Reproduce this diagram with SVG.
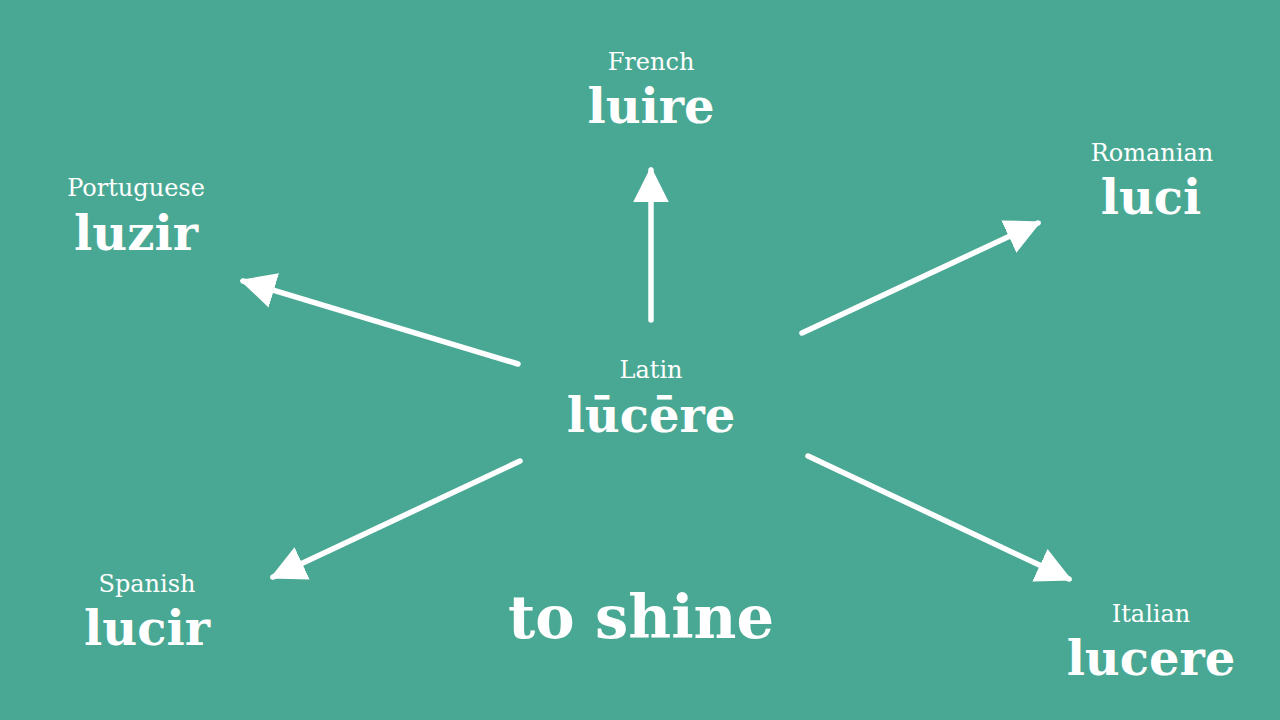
<svg xmlns="http://www.w3.org/2000/svg" width="1280" height="720" viewBox="0 0 1280 720">
<defs>
<style>
.lang{font-family:"DejaVu Serif","Liberation Serif",serif;font-size:24px;fill:#ffffff;text-anchor:middle}
.word{font-family:"DejaVu Serif","Liberation Serif",serif;font-weight:bold;font-size:48px;fill:#ffffff;text-anchor:middle}
.big{font-family:"DejaVu Serif","Liberation Serif",serif;font-weight:bold;font-size:59px;fill:#ffffff;text-anchor:middle}
.arrow{stroke:#ffffff;stroke-width:5.5;stroke-linecap:round;fill:none}
</style>
<marker id="head" viewBox="0 0 10 10" refX="9" refY="5" markerWidth="6.5" markerHeight="7.5" markerUnits="strokeWidth" orient="auto">
<path d="M0,0 L10,5 L0,10 Z" fill="#ffffff"/>
</marker>
</defs>
<rect width="1280" height="720" fill="#49a893"/>
<g id="connectors">
<line class="arrow" x1="651" y1="320" x2="651" y2="170" marker-end="url(#head)"/>
<line class="arrow" x1="518" y1="364" x2="243" y2="281" marker-end="url(#head)"/>
<line class="arrow" x1="802" y1="333" x2="1038" y2="223" marker-end="url(#head)"/>
<line class="arrow" x1="520" y1="461" x2="273" y2="577" marker-end="url(#head)"/>
<line class="arrow" x1="808" y1="456" x2="1069" y2="579" marker-end="url(#head)"/>
</g>
<g id="french"><text class="lang" x="651" y="70">French</text><text class="word" x="651" y="123">luire</text></g>
<g id="romanian"><text class="lang" x="1152" y="161">Romanian</text><text class="word" x="1151" y="214">luci</text></g>
<g id="portuguese"><text class="lang" x="136" y="196">Portuguese</text><text class="word" x="136" y="250">luzir</text></g>
<g id="latin"><text class="lang" x="651" y="378">Latin</text><text class="word" x="651" y="432">lūcēre</text></g>
<g id="spanish"><text class="lang" x="147" y="592">Spanish</text><text class="word" x="147" y="645">lucir</text></g>
<g id="meaning"><text class="big" x="641" y="638">to shine</text></g>
<g id="italian"><text class="lang" x="1151" y="622">Italian</text><text class="word" x="1151" y="675">lucere</text></g>
</svg>
